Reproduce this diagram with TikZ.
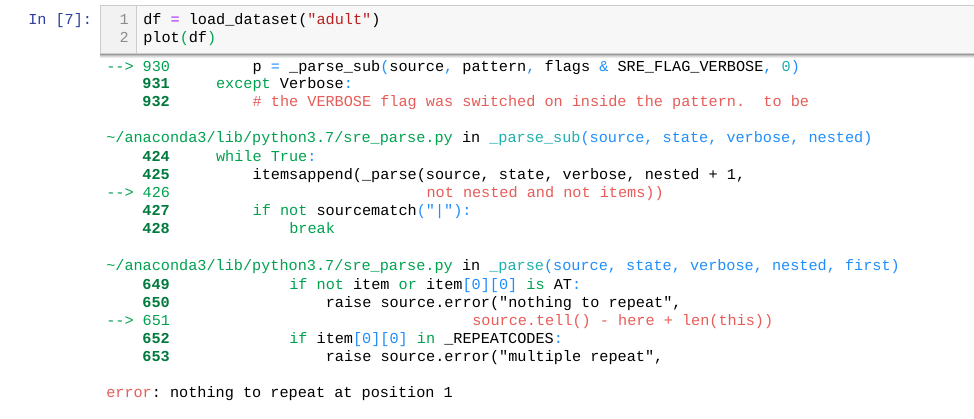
\documentclass[tikz,border=0pt]{standalone}
\usepackage{fontspec}
\setmonofont{Liberation Mono}
\definecolor{G}{HTML}{00A250}
\definecolor{DG}{HTML}{007A3D}
\definecolor{B}{HTML}{208FFB}
\definecolor{C}{HTML}{20B0B0}
\definecolor{R}{HTML}{E75C58}
\definecolor{P}{HTML}{AA22FF}
\definecolor{SR}{HTML}{BA2121}
\definecolor{IN}{HTML}{303F9F}
\newcommand{\g}[1]{\textcolor{G}{#1}}
\newcommand{\bl}[1]{\textcolor{B}{#1}}
\newcommand{\cy}[1]{\textcolor{C}{#1}}
\newcommand{\rd}[1]{\textcolor{R}{#1}}
\begin{document}
\begin{tikzpicture}[x=0.75pt,y=-0.75pt,
  code/.style={anchor=base west,inner sep=0pt,font=\ttfamily\fontsize{11.4}{13}\selectfont},
  lnum/.style={code,anchor=base east,text=DG,font=\ttfamily\bfseries\fontsize{11.4}{13}\selectfont}]
\useasboundingbox (0,0) rectangle (974,418);
\fill[white] (0,0) rectangle (974,418);
% shadow
\foreach \i/\c in {1/40,2/25,3/15,4/8}{\draw[black!\c] (100,53+\i) -- (974,53+\i);}
\draw[fill=black!3,draw=black!20] (100,5) rectangle (980,53);
\fill[black!5] (100.5,5.5) rectangle (135.5,52.5);
\draw[black!20] (136,5) -- (136,53);
\node[code,text=IN] (inp) at (28,24) {In [7]:};
\node[code,text=black!45,anchor=base east] (n1) at (129,24) {1};
\node[code,text=black!45,anchor=base east] (n2) at (129,42) {2};
\node[code] (c1) at (143,24) {df \textcolor{P}{=} load\_dataset(\textcolor{SR}{"adult"})};
\node[code] (c2) at (143,42) {plot\g{(}df\g{)}};
% traceback
\def\cx#1{\fpeval{106+#1*9.15}}
\node[code] (a930) at (106,71) {\g{-{}-{}> 930}};
\node[code] (l930) at (\cx{16},71) {p \bl{=} \_parse\_sub\bl{(}source\bl{,} pattern\bl{,} flags \bl{\&} SRE\_FLAG\_VERBOSE\bl{,} \cy{0}\bl{)}};
\node[lnum] (n931) at (\cx{7},88) {931};
\node[code] (l931) at (\cx{12},88) {\g{except} Verbose\bl{:}};
\node[lnum] (n932) at (\cx{7},106) {932};
\node[code] (l932) at (\cx{16},106) {\rd{\# the VERBOSE flag was switched on inside the pattern.\ \ to be}};
\node[code] (p1) at (106,142) {\g{\textasciitilde/anaconda3/lib/python3.7/sre\_parse.py} in \cy{\_parse\_sub}\bl{(source, state, verbose, nested)}};
\node[lnum] (n424) at (\cx{7},161) {424};
\node[code] (l424) at (\cx{12},161) {\g{while True}\bl{:}};
\node[lnum] (n425) at (\cx{7},179) {425};
\node[code] (l425) at (\cx{16},179) {itemsappend(\_parse(source, state, verbose, nested + 1,};
\node[code] (a426) at (106,197) {\g{-{}-{}> 426}};
\node[code] (l426) at (\cx{35},197) {\rd{not nested and not items))}};
\node[lnum] (n427) at (\cx{7},215) {427};
\node[code] (l427) at (\cx{16},215) {\g{if not} sourcematch\bl{("|"):}};
\node[lnum] (n428) at (\cx{7},233) {428};
\node[code] (l428) at (\cx{20},233) {\g{break}};
\node[code] (p2) at (106,270) {\g{\textasciitilde/anaconda3/lib/python3.7/sre\_parse.py} in \cy{\_parse}\bl{(source, state, verbose, nested, first)}};
\node[lnum] (n649) at (\cx{7},289) {649};
\node[code] (l649) at (\cx{20},289) {\g{if not} item \g{or} item\bl{[0][0]} \g{is} AT\bl{:}};
\node[lnum] (n650) at (\cx{7},307) {650};
\node[code] (l650) at (\cx{24},307) {raise source.error("nothing to repeat",};
\node[code] (a651) at (106,325) {\g{-{}-{}> 651}};
\node[code] (l651) at (\cx{40},325) {\rd{source.tell() - here + len(this))}};
\node[lnum] (n652) at (\cx{7},343) {652};
\node[code] (l652) at (\cx{20},343) {\g{if} item\bl{[0][0]} \g{in} \_REPEATCODES\bl{:}};
\node[lnum] (n653) at (\cx{7},361) {653};
\node[code] (l653) at (\cx{24},361) {raise source.error("multiple repeat",};
\node[code] (err) at (106,397) {\rd{error}: nothing to repeat at position 1};
\end{tikzpicture}
\end{document}
